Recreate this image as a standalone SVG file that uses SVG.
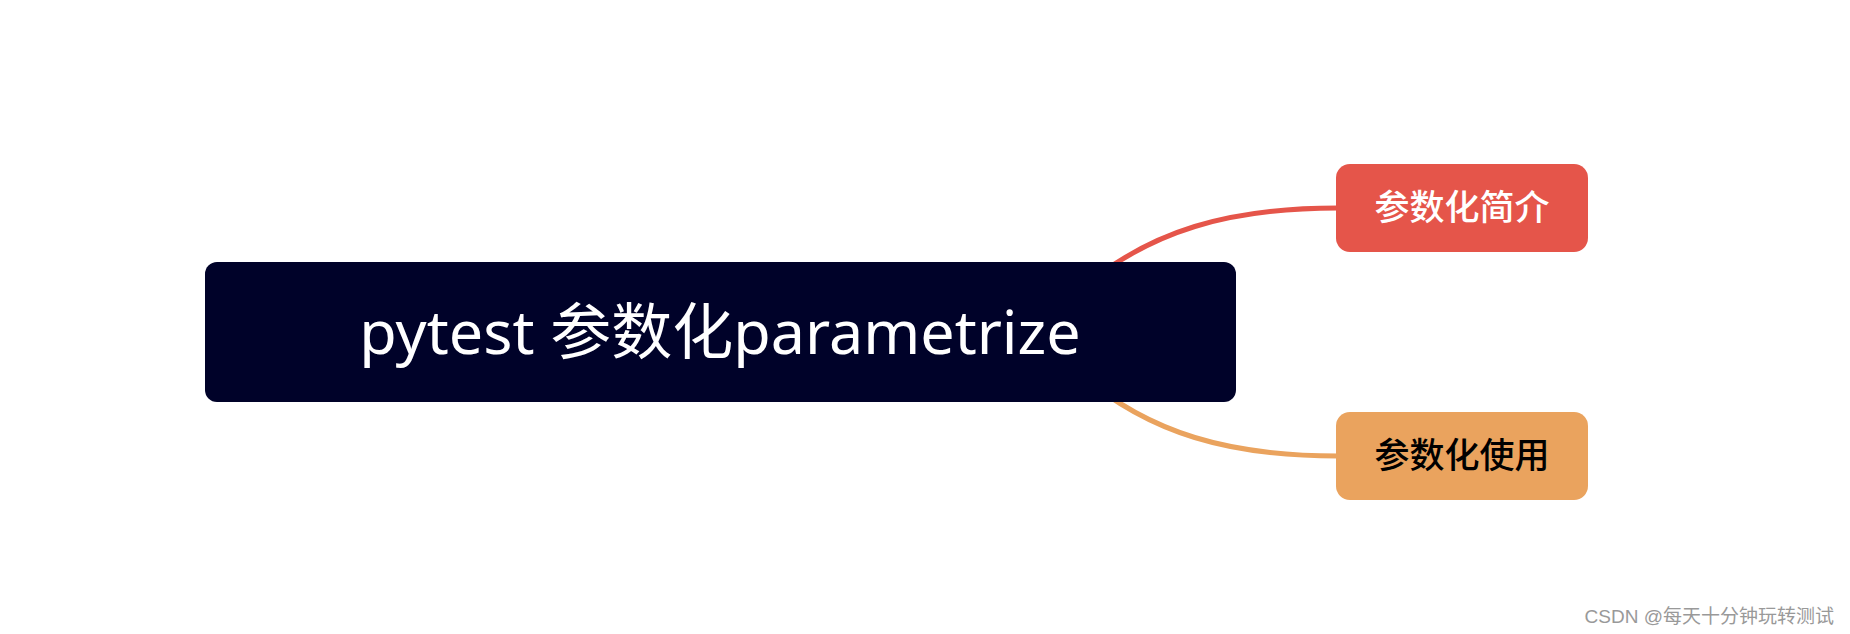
<svg xmlns="http://www.w3.org/2000/svg" width="1850" height="634" viewBox="0 0 1850 634">
<style>
.t{font-family:"Noto Sans","Noto Sans CJK SC",sans-serif;text-anchor:middle}
.b{font-weight:500}
.c{fill:none;stroke-width:5;stroke-linecap:round}
</style>
<rect width="1850" height="634" fill="#ffffff"/>
<g id="connectors">
<path class="c" stroke="#E5554A" d="M 1080 290 C 1150 230, 1230 208, 1338 208"/>
<path class="c" stroke="#EAA35E" d="M 1080 374 C 1150 434, 1230 456, 1338 456"/>
</g>
<g id="root">
<rect x="205" y="262" width="1031" height="140" rx="12" fill="#000229"/>
<text class="t" x="720" y="354" font-size="61" fill="#ffffff">pytest 参数化parametrize</text>
</g>
<g id="node-intro">
<rect x="1336" y="164" width="252" height="88" rx="14" fill="#E5554A"/>
<text class="t b" x="1462" y="220" font-size="35" fill="#ffffff">参数化简介</text>
</g>
<g id="node-usage">
<rect x="1336" y="412" width="252" height="88" rx="14" fill="#EAA35E"/>
<text class="t b" x="1462" y="468" font-size="35" fill="#000000">参数化使用</text>
</g>
<text x="1834" y="623" font-size="19" fill="#999999" text-anchor="end" font-family="Liberation Sans,Noto Sans CJK SC,sans-serif">CSDN @每天十分钟玩转测试</text>
</svg>
